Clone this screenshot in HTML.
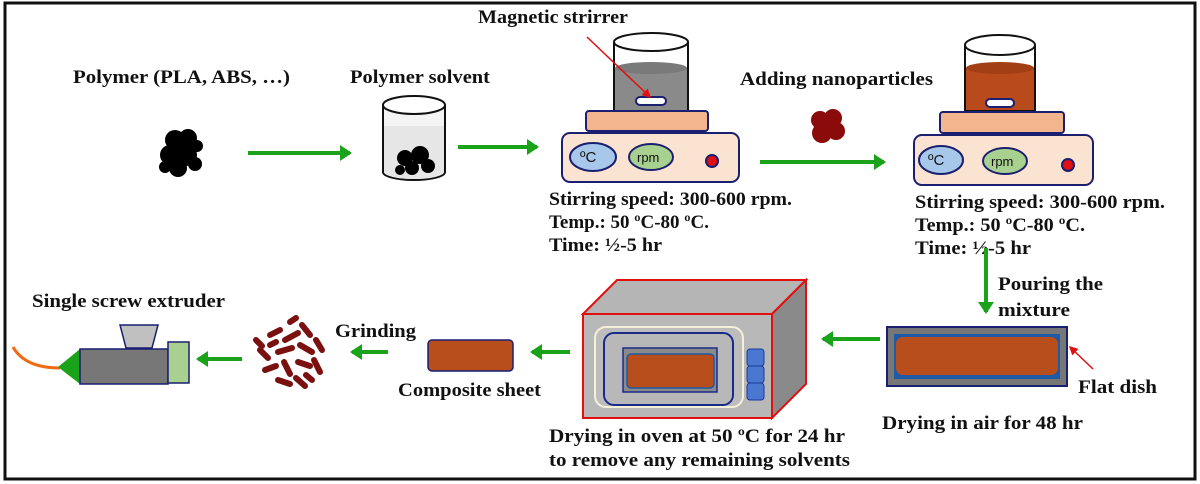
<!DOCTYPE html>
<html><head><meta charset="utf-8"><style>
html,body{margin:0;padding:0;background:#fff;width:1200px;height:484px;overflow:hidden}
text{font-family:"Liberation Serif",serif;font-weight:bold;fill:#111}
</style></head><body>
<svg width="1200" height="484" viewBox="0 0 1200 484" xmlns="http://www.w3.org/2000/svg">
<defs>
<marker id="ga" markerWidth="4" markerHeight="4" refX="2.5" refY="2" orient="auto" markerUnits="strokeWidth"><path d="M0,0 L3,2 L0,4 Z" fill="#1aa31a"/></marker>
<marker id="ra" markerWidth="6" markerHeight="6" refX="5" refY="3" orient="auto" markerUnits="strokeWidth"><path d="M0,0 L6,3 L0,6 Z" fill="#e01010"/></marker>
</defs>
<rect x="0" y="0" width="1200" height="484" fill="#fff"/>
<rect x="5" y="3" width="1190" height="476" fill="none" stroke="#111" stroke-width="3"/>

<g font-size="19" lengthAdjust="spacingAndGlyphs">
<text x="73" y="83" font-size="19" textLength="217" lengthAdjust="spacingAndGlyphs">Polymer (PLA, ABS, …)</text>
<text x="350" y="83" font-size="19" textLength="140" lengthAdjust="spacingAndGlyphs">Polymer solvent</text>
<text x="478" y="23" font-size="19" textLength="150" lengthAdjust="spacingAndGlyphs">Magnetic strirrer</text>
<text x="740" y="85" font-size="19" textLength="193" lengthAdjust="spacingAndGlyphs">Adding nanoparticles</text>
</g>

<!-- polymer blob -->
<g fill="#000">
<circle cx="175" cy="140" r="10"/><circle cx="188" cy="138" r="9"/><circle cx="170" cy="155" r="10"/><circle cx="186" cy="155" r="11"/><circle cx="178" cy="168" r="9"/><circle cx="195" cy="164" r="7"/><circle cx="165" cy="167" r="6"/><circle cx="197" cy="146" r="6"/>
</g>
<line x1="248" y1="153" x2="350" y2="153" stroke="#1aa31a" stroke-width="4" marker-end="url(#ga)"/>
<!-- beaker 1 -->
<g stroke="#111" stroke-width="2">
<path d="M383,105 L383,172 A31,8 0 0 0 445,172 L445,105" fill="#f4f4f4"/>
<path d="M384,126 L384,172 A30,7 0 0 0 444,172 L444,126 Z" fill="#e6e6e6" stroke="none"/>
<ellipse cx="414" cy="105" rx="31" ry="9" fill="#fff"/>
</g>
<g fill="#000"><circle cx="405" cy="158" r="8"/><circle cx="420" cy="155" r="9"/><circle cx="412" cy="168" r="7"/><circle cx="428" cy="166" r="7"/><circle cx="400" cy="170" r="5"/></g>
<line x1="458" y1="147" x2="537" y2="147" stroke="#1aa31a" stroke-width="4" marker-end="url(#ga)"/>

<!-- stirrer 1 -->
<g stroke="#1a1f70" stroke-width="2">
<path d="M614,42 L614,111 L688,111 L688,42" fill="#fff" stroke="#111"/>
<path d="M615,68 L615,110 L687,110 L687,68 Z" fill="#8a8a8a" stroke="none"/>
<ellipse cx="651" cy="68" rx="36" ry="6" fill="#7a7a7a" stroke="none"/>
<ellipse cx="651" cy="42" rx="37" ry="9" fill="#fff" stroke="#111"/>
<rect x="636" y="97" width="30" height="8" rx="4" fill="#fff"/>
<rect x="586" y="111" width="122" height="20" rx="3" fill="#f3b58e"/>
<rect x="562" y="133" width="177" height="49" rx="8" fill="#fbe3d2"/>
<ellipse cx="593" cy="157" rx="23" ry="14" fill="#a7c8ea"/>
<ellipse cx="651" cy="157" rx="22" ry="13" fill="#a8d08e"/>
<circle cx="712" cy="161" r="6" fill="#e01010"/>
</g>
<text x="580" y="162" font-size="15" style="font-family:'Liberation Sans',sans-serif;font-weight:normal">ºC</text>
<text x="637" y="162" font-size="13" style="font-family:'Liberation Sans',sans-serif;font-weight:normal">rpm</text>
<line x1="587" y1="37" x2="650" y2="97" stroke="#e01010" stroke-width="1.5" marker-end="url(#ra)"/>
<text x="549" y="205" font-size="19" textLength="243" lengthAdjust="spacingAndGlyphs">Stirring speed: 300-600 rpm.</text>
<text x="549" y="228" font-size="19" textLength="160" lengthAdjust="spacingAndGlyphs">Temp.: 50 ºC-80 ºC.</text>
<text x="549" y="251" font-size="19" textLength="113" lengthAdjust="spacingAndGlyphs">Time: ½-5 hr</text>

<!-- nano blob -->
<g fill="#8b0a0a"><circle cx="820" cy="120" r="9"/><circle cx="833" cy="118" r="9"/><circle cx="822" cy="133" r="10"/><circle cx="836" cy="131" r="9"/><circle cx="828" cy="125" r="9"/></g>
<line x1="760" y1="162" x2="884" y2="162" stroke="#1aa31a" stroke-width="4" marker-end="url(#ga)"/>

<!-- stirrer 2 -->
<g stroke="#1a1f70" stroke-width="2">
<path d="M965,45 L965,111 L1035,111 L1035,45" fill="#fff" stroke="#111"/>
<path d="M966,68 L966,110 L1034,110 L1034,68 Z" fill="#b94a1c" stroke="none"/>
<ellipse cx="1000" cy="68" rx="34" ry="6" fill="#a33f14" stroke="none"/>
<ellipse cx="1000" cy="45" rx="35" ry="10" fill="#fff" stroke="#111"/>
<rect x="986" y="99" width="28" height="8" rx="4" fill="#fff"/>
<rect x="940" y="112" width="124" height="21" rx="3" fill="#f3b58e"/>
<rect x="914" y="135" width="179" height="50" rx="8" fill="#fbe3d2"/>
<ellipse cx="941" cy="160" rx="22" ry="14" fill="#a7c8ea"/>
<ellipse cx="1005" cy="161" rx="22" ry="13" fill="#a8d08e"/>
<circle cx="1068" cy="165" r="6" fill="#e01010"/>
</g>
<text x="928" y="165" font-size="15" style="font-family:'Liberation Sans',sans-serif;font-weight:normal">ºC</text>
<text x="991" y="166" font-size="13" style="font-family:'Liberation Sans',sans-serif;font-weight:normal">rpm</text>
<text x="915" y="208" font-size="19" textLength="250" lengthAdjust="spacingAndGlyphs">Stirring speed: 300-600 rpm.</text>
<text x="915" y="231" font-size="19" textLength="170" lengthAdjust="spacingAndGlyphs">Temp.: 50 ºC-80 ºC.</text>
<text x="915" y="254" font-size="19" textLength="116" lengthAdjust="spacingAndGlyphs">Time: ½-5 hr</text>

<line x1="986" y1="248" x2="986" y2="312" stroke="#1aa31a" stroke-width="4" marker-end="url(#ga)"/>
<text x="998" y="290" font-size="19" textLength="105" lengthAdjust="spacingAndGlyphs">Pouring the</text>
<text x="998" y="316" font-size="19" textLength="72" lengthAdjust="spacingAndGlyphs">mixture</text>
<!-- flat dish -->
<rect x="887" y="327" width="180" height="59" fill="#777" stroke="#1a1f70" stroke-width="2"/>
<rect x="894" y="334" width="166" height="45" fill="#1e5aa8"/>
<rect x="896" y="337" width="162" height="38" rx="7" fill="#b84e1c"/>
<line x1="1093" y1="369" x2="1070" y2="347" stroke="#e01010" stroke-width="1.5" marker-end="url(#ra)"/>
<text x="1078" y="393" font-size="19" textLength="79" lengthAdjust="spacingAndGlyphs">Flat dish</text>
<text x="882" y="429" font-size="19" textLength="201" lengthAdjust="spacingAndGlyphs">Drying in air for 48 hr</text>

<line x1="880" y1="339" x2="823" y2="339" stroke="#1aa31a" stroke-width="4" marker-end="url(#ga)"/>

<!-- oven -->
<g stroke="#e01010" stroke-width="2">
<path d="M583,314 L617,280 L806,280 L772,314 Z" fill="#b5b5b5"/>
<path d="M772,314 L806,280 L806,384 L772,418 Z" fill="#8a8a8a"/>
<rect x="583" y="314" width="189" height="104" fill="#b8b8b8"/>
</g>
<rect x="595" y="327" width="148" height="80" rx="11" fill="#bdbdbd" stroke="#f5f0d8" stroke-width="2"/>
<rect x="604" y="333" width="129" height="72" rx="10" fill="#b8b8b8" stroke="#1a2a8a" stroke-width="2"/>
<rect x="623" y="348" width="94" height="44" fill="#8a8a8a" stroke="#1a2a8a" stroke-width="1.5"/>
<rect x="627" y="354" width="87" height="34" rx="4" fill="#b84e1c" stroke="#1e5aa8" stroke-width="1.5"/>
<g fill="#4a78d0" stroke="#1a3a9a" stroke-width="1">
<rect x="747" y="349" width="17" height="17" rx="3"/><rect x="747" y="366" width="17" height="17" rx="3"/><rect x="747" y="383" width="17" height="17" rx="3"/>
</g>
<text x="549" y="442" font-size="19" textLength="296" lengthAdjust="spacingAndGlyphs">Drying in oven at 50 ºC for 24 hr</text>
<text x="549" y="466" font-size="19" textLength="301" lengthAdjust="spacingAndGlyphs">to remove any remaining solvents</text>

<line x1="570" y1="352" x2="532" y2="352" stroke="#1aa31a" stroke-width="4" marker-end="url(#ga)"/>
<rect x="428" y="340" width="85" height="31" rx="4" fill="#b84e1c" stroke="#1a1f70" stroke-width="1.5"/>
<text x="398" y="396" font-size="19" textLength="143" lengthAdjust="spacingAndGlyphs">Composite sheet</text>
<line x1="388" y1="352" x2="352" y2="352" stroke="#1aa31a" stroke-width="4" marker-end="url(#ga)"/>
<text x="335" y="337" font-size="19" textLength="81" lengthAdjust="spacingAndGlyphs">Grinding</text>
<!-- particles -->
<g stroke="#7a1010" stroke-width="6" stroke-linecap="round">
<line x1="270" y1="335" x2="280" y2="330"/><line x1="285" y1="340" x2="298" y2="333"/><line x1="302" y1="325" x2="310" y2="335"/><line x1="260" y1="350" x2="268" y2="358"/><line x1="278" y1="352" x2="292" y2="348"/><line x1="300" y1="345" x2="312" y2="352"/><line x1="316" y1="340" x2="322" y2="350"/><line x1="265" y1="370" x2="276" y2="366"/><line x1="284" y1="362" x2="290" y2="374"/><line x1="298" y1="362" x2="310" y2="366"/><line x1="314" y1="360" x2="320" y2="372"/><line x1="278" y1="380" x2="290" y2="384"/><line x1="296" y1="378" x2="305" y2="386"/><line x1="256" y1="340" x2="262" y2="346"/><line x1="290" y1="322" x2="296" y2="318"/><line x1="270" y1="345" x2="276" y2="342"/><line x1="306" y1="375" x2="312" y2="380"/>
</g>
<line x1="242" y1="359" x2="198" y2="359" stroke="#1aa31a" stroke-width="4" marker-end="url(#ga)"/>
<text x="32" y="307" font-size="19" textLength="193" lengthAdjust="spacingAndGlyphs">Single screw extruder</text>
<!-- extruder -->
<path d="M13,347 Q25,368 60,368" fill="none" stroke="#f06a10" stroke-width="3"/>
<polygon points="80,349 80,384 58,367" fill="#1aa31a"/>
<polygon points="120,325 158,325 152,348 126,348" fill="#c0c0c0" stroke="#1a1f70" stroke-width="1.5"/>
<rect x="80" y="349" width="88" height="35" fill="#777" stroke="#1a1f70" stroke-width="1.5"/>
<rect x="168" y="342" width="21" height="41" fill="#a8d08e" stroke="#1a1f70" stroke-width="1.5"/>
</svg>
</body></html>
